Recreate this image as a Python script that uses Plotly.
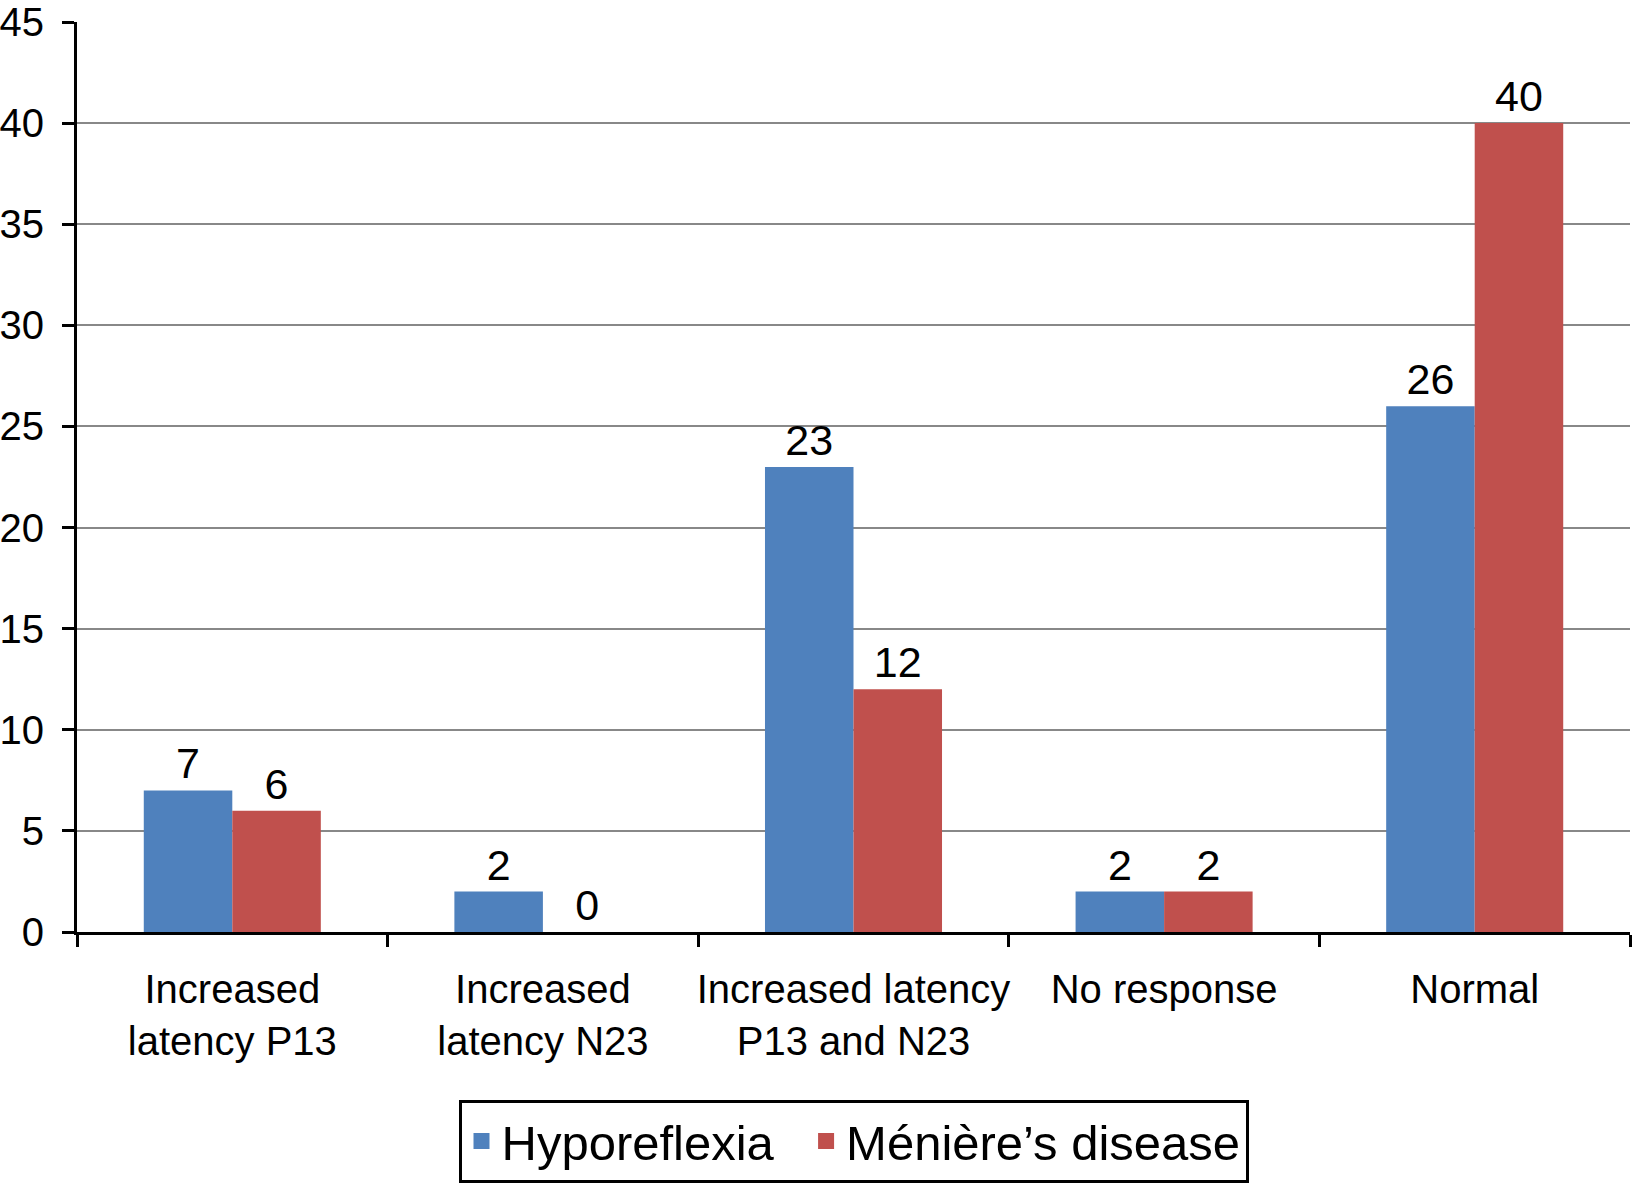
import plotly.graph_objects as go

# Categories and counts
categories = [
    "Increased<br>latency P13",
    "Increased<br>latency N23",
    "Increased latency<br>P13 and N23",
    "No response",
    "Normal",
]
hyporeflexia = [7, 2, 23, 2, 26]
meniere = [6, 0, 12, 2, 40]
y_ticks = [0, 5, 10, 15, 20, 25, 30, 35, 40, 45]

FONT = "Liberation Sans, Arial, sans-serif"
BLUE = "#4F81BD"
RED = "#C0504D"

fig = go.Figure()

series = [("Hyporeflexia", hyporeflexia, BLUE), ("Ménière’s disease", meniere, RED)]

for name, values, color in series:
    fig.add_trace(go.Bar(
        x=categories,
        y=values,
        name=name,
        marker=dict(color=color, line=dict(width=0)),
        text=values,
        textposition="outside",
        textfont=dict(size=43, color="black", family=FONT),
        cliponaxis=False,
        showlegend=False,
    ))

# legend-only entries so the legend squares can be bigger than plotly's bar swatch
# (non-breaking spaces widen the gap between the two entries like the original)
legend_names = ["Hyporeflexia\u00a0\u00a0", "Ménière’s disease"]
for (name, values, color), label in zip(series, legend_names):
    fig.add_trace(go.Scatter(
        x=[None],
        y=[None],
        mode="markers",
        name=label,
        marker=dict(symbol="square", size=21, color=color),
    ))

fig.update_layout(
    width=1632,
    height=1185,
    margin=dict(l=77, r=2, t=22, b=253, autoexpand=False),
    paper_bgcolor="white",
    plot_bgcolor="white",
    barmode="group",
    bargap=0.43,
    bargroupgap=0,
    font=dict(family=FONT, color="black"),
    showlegend=True,
    legend=dict(
        orientation="h",
        x=0.5,
        xanchor="center",
        yref="container",
        y=0.002,
        yanchor="bottom",
        bordercolor="black",
        borderwidth=3,
        font=dict(size=49, color="black", family=FONT),
        itemsizing="trace",
    ),
)

fig.update_xaxes(
    showline=True,
    linecolor="black",
    linewidth=3,
    ticks="outside",
    tickson="boundaries",
    ticklen=12,
    tickwidth=3,
    tickcolor="black",
    tickangle=0,
    automargin=False,
    tickfont=dict(size=40, color="black", family=FONT),
    ticklabelstandoff=20,
    showgrid=False,
)

fig.update_yaxes(
    range=[0, 45],
    tickvals=y_ticks,
    showline=True,
    linecolor="black",
    linewidth=3,
    ticks="outside",
    ticklen=12,
    tickwidth=3,
    tickcolor="black",
    automargin=False,
    ticklabeloverflow="allow",
    tickfont=dict(size=40, color="black", family=FONT),
    ticklabelstandoff=10,
    showgrid=True,
    gridcolor="#888888",
    gridwidth=2,
    zeroline=False,
)

# drop the default 8px body margin so the figure fills the window exactly
fig.write_html(
    "out.html",
    config={"displayModeBar": False},
    post_script="document.body.style.margin='0';",
)
